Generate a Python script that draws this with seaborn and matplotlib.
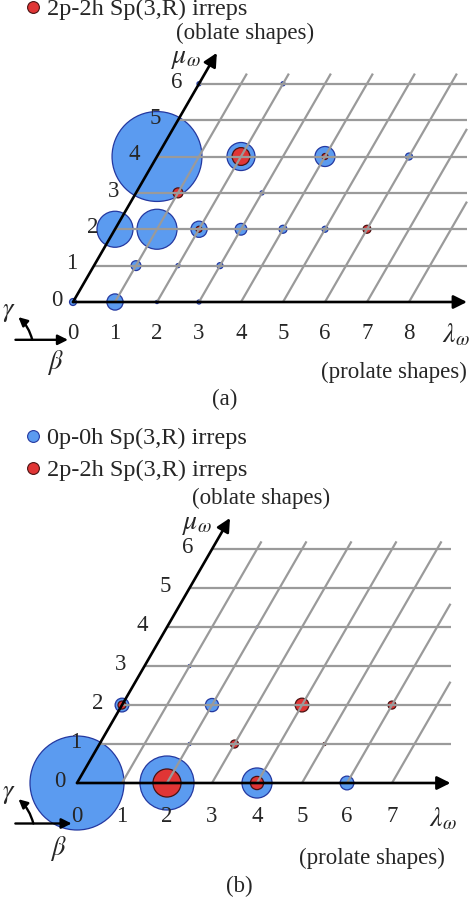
import numpy as np
import pandas as pd
import seaborn as sns
import matplotlib.pyplot as plt
from matplotlib.lines import Line2D

sns.set_theme(style="white")
plt.rcParams['font.family'] = ['Liberation Serif', 'DejaVu Serif']
plt.rcParams['mathtext.fontset'] = 'stix'

# ---------------- data (percent weights, bubble area ~ weight) ----------------
a_blue_lam = [0, 1, 2, 3, 1, 2, 3, 0, 1, 2, 3, 4, 5, 3, 0, 2, 4, 6, 0, 2]
a_blue_mu = [0, 0, 0, 0, 1, 1, 1, 2, 2, 2, 2, 2, 2, 3, 4, 4, 4, 4, 6, 6]
a_blue_w = [0.35, 1.9, 0.07, 0.12, 0.7, 0.12, 0.26, 9.4, 11.6, 1.9, 1.0, 0.46,
            0.26, 0.12, 58.6, 5.7, 2.9, 0.35, 0.12, 0.12]
a_red_lam = [2, 6, 1, 2, 4]
a_red_mu = [2, 2, 3, 4, 4]
a_red_w = [0.26, 0.46, 0.72, 2.3, 0.26]

b_blue_lam = [0, 2, 4, 6, 2, 1, 0, 2, 2]
b_blue_mu = [0, 0, 0, 0, 1, 3, 2, 2, 4]
b_blue_w = [60.6, 20.0, 6.2, 1.3, 0.06, 0.06, 1.3, 1.2, 0.03]
b_red_lam = [2, 4, 3, 5, 0, 4, 6]
b_red_mu = [0, 0, 1, 1, 2, 2, 2]
b_red_w = [5.4, 1.2, 0.44, 0.06, 0.44, 1.3, 0.44]

a_lam_ticks = [0, 1, 2, 3, 4, 5, 6, 7, 8]
b_lam_ticks = [0, 1, 2, 3, 4, 5, 6, 7]
mu_ticks = [0, 1, 2, 3, 4, 5, 6]
legend_labels = ["0p-0h Sp(3,R) irreps", "2p-2h Sp(3,R) irreps"]

BLUE, BLUE_E = "#5b9bf0", "#2438a0"
RED, RED_E = "#e03535", "#4a1212"
GRID = "#9a9a9a"
H = np.sqrt(3) / 2

W_PX, H_PX = 474, 900
fig = plt.figure(figsize=(W_PX / 100, H_PX / 100), dpi=100)


def make_ax(ox, oy, unit):
    ax = fig.add_axes([0, 0, 1, 1])
    ax.set_xlim(-ox / unit, (W_PX - ox) / unit)
    ax.set_ylim(-(H_PX - oy) / unit, oy / unit)
    ax.axis("off")
    ax.patch.set_alpha(0)
    return ax


def bubbles(ax, lam, mu, w, k, color, edge, z):
    df = pd.DataFrame({"lam": lam, "mu": mu, "w": w})
    df["x"] = df["lam"] + df["mu"] / 2
    df["y"] = df["mu"] * H
    sns.scatterplot(data=df, x="x", y="y", s=df["w"].to_numpy() * k, color=color,
                    edgecolor=edge, linewidth=0.9, ax=ax, zorder=z, legend=False,
                    clip_on=False)


def panel(ax, lam_ticks, x_right, mu_top, mu_tip, bl, bm, bw, rl, rm, rw, k, tag,
          tag_y, leg_y):
    # bubbles
    bubbles(ax, bl, bm, bw, k, BLUE, BLUE_E, 2)
    bubbles(ax, rl, rm, rw, k, RED, RED_E, 3)
    # grid
    for m in mu_ticks[1:]:
        ax.plot([m / 2, x_right], [m * H, m * H], color=GRID, lw=1.6, zorder=4,
                solid_capstyle="butt")
    for l in lam_ticks[1:]:
        m_end = min(mu_top, 2 * (x_right - l))
        ax.plot([l, l + m_end / 2], [0, m_end * H], color=GRID, lw=1.6, zorder=4,
                solid_capstyle="butt")
    # axes
    ap = dict(arrowstyle="-|>", lw=1.9, color="black", mutation_scale=20,
              shrinkA=0, shrinkB=0)
    ax.annotate("", xy=(x_right, 0), xytext=(0, 0), arrowprops=ap, zorder=5)
    ax.annotate("", xy=(mu_tip / 2, mu_tip * H), xytext=(0, 0), arrowprops=ap,
                zorder=5)
    fs = 16.5
    for l in lam_ticks:
        ax.text(l, -0.74, str(l), ha="center", va="center", fontsize=fs, zorder=6)
    for m in mu_ticks:
        off = -0.38 if m == 0 else -0.54
        ax.text(m / 2 + off, m * H + 0.04, str(m), ha="center", va="center",
                fontsize=fs, zorder=6)
    ax.text(lam_ticks[-1] + 1.12, -0.8, r"$\lambda_\omega$", fontsize=20,
            ha="center", va="center")
    ax.text(mu_tip / 2 - 0.72, mu_tip * H - 0.14, r"$\mu_\omega$", fontsize=20,
            ha="center", va="center")
    ax.text(x_right - 1.75, -1.67, "(prolate shapes)", fontsize=fs, ha="center",
            va="center")
    ax.text(4.1, mu_top * H + 0.95, "(oblate shapes)", fontsize=fs, ha="center",
            va="center")
    ax.text(3.6, tag_y, tag, fontsize=fs, ha="center", va="center")
    # gamma / beta icon
    ax.annotate("", xy=(-0.12, -0.9), xytext=(-1.37, -0.9),
                arrowprops=dict(arrowstyle="-|>", lw=1.7, color="black",
                                mutation_scale=15, shrinkA=0, shrinkB=0), zorder=6)
    ax.annotate("", xy=(-1.3, -0.36), xytext=(-0.97, -0.9),
                arrowprops=dict(arrowstyle="-|>", lw=1.7, color="black",
                                mutation_scale=13, shrinkA=0, shrinkB=0,
                                connectionstyle="arc3,rad=0.15"), zorder=6)
    ax.text(-1.52, -0.26, r"$\gamma$", fontsize=19, ha="center", va="center")
    ax.text(-0.42, -1.45, r"$\beta$", fontsize=19, ha="center", va="center")
    # legend
    handles = [Line2D([], [], ls="none", marker="o", markersize=8.5,
                      markerfacecolor=BLUE, markeredgecolor=BLUE_E, markeredgewidth=0.8),
               Line2D([], [], ls="none", marker="o", markersize=8.5,
                      markerfacecolor=RED, markeredgecolor=RED_E, markeredgewidth=0.8)]
    ax.legend(handles, legend_labels, loc="upper left", frameon=False,
              fontsize=17.5, handlelength=0.8, handletextpad=0.2, labelspacing=0.42,
              borderaxespad=0, borderpad=0,
              bbox_to_anchor=(23 / W_PX, 1 - leg_y / H_PX))


ax_a = make_ax(73, 302, 42)
panel(ax_a, a_lam_ticks, 9.38, 6.28, 6.85, a_blue_lam, a_blue_mu, a_blue_w,
      a_red_lam, a_red_mu, a_red_w, 71.5, "(a)", -2.33, -34)

ax_b = make_ax(77, 783, 45)
panel(ax_b, b_lam_ticks, 8.3, 6.2, 6.8, b_blue_lam, b_blue_mu, b_blue_w,
      b_red_lam, b_red_mu, b_red_w, 75.6, "(b)", -2.31, 427)

fig.savefig("out.png", dpi=100)
